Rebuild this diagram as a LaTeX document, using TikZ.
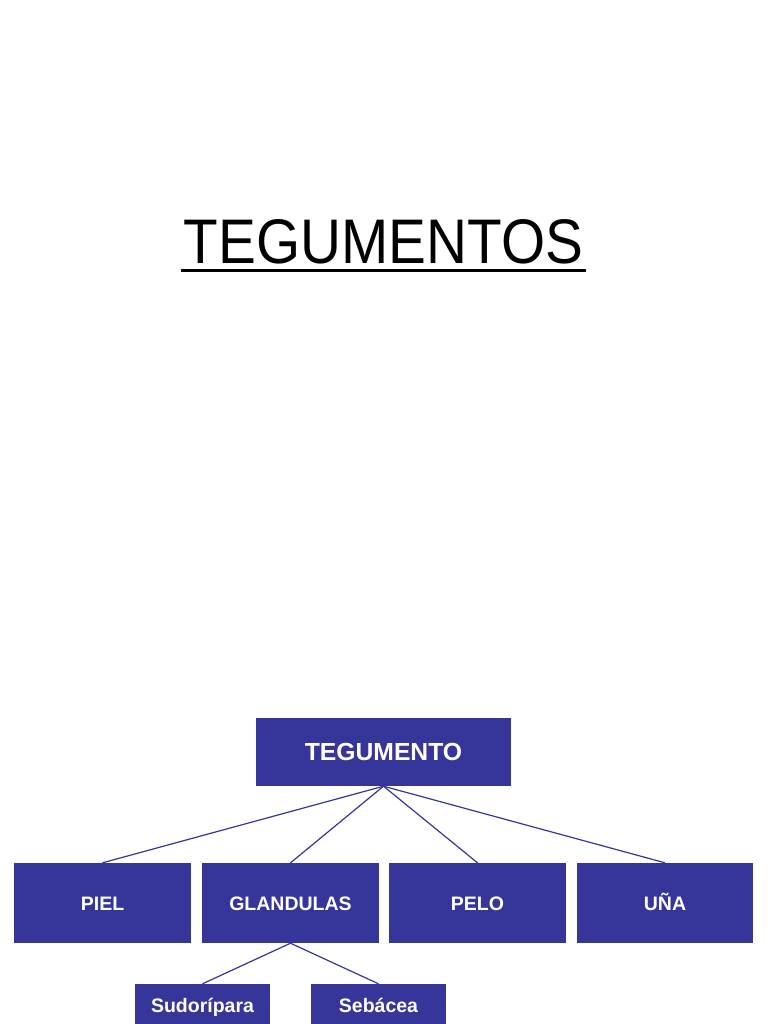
\documentclass[tikz,border=0pt]{standalone}
\usepackage{fontspec}
\setmainfont{Liberation Sans}
\definecolor{boxblue}{RGB}{53,53,154}
\begin{document}
\begin{tikzpicture}[x=1pt,y=-1pt,
  box/.style={draw=none,fill=boxblue,text=white,inner sep=0pt,font=\fontsize{19.5}{20}\selectfont\bfseries,text height=14pt,text depth=0pt},
  bigbox/.style={box,font=\fontsize{24.7}{26}\selectfont\bfseries,text height=17.7pt},
  link/.style={draw=boxblue,line width=1.2pt}]
\useasboundingbox (0,0) rectangle (768,1024);
\node[inner sep=0pt,text height=45pt,text depth=0pt,font=\fontsize{63}{66}\selectfont,xscale=0.9] (title) at (383.5,240.5) {TEGUMENTOS};
\draw[line width=3pt] (181,270) coordinate (ul1) -- (586,270) coordinate (ul2);
\node[bigbox,minimum width=255pt,minimum height=68pt] (teg) at (383.5,752) {TEGUMENTO};
\node[box,minimum width=177pt,minimum height=80pt] (piel) at (102.5,903) {PIEL};
\node[box,minimum width=177pt,minimum height=80pt] (gland) at (290.5,903) {GLANDULAS};
\node[box,minimum width=177pt,minimum height=80pt] (pelo) at (477.5,903) {PELO};
\node[box,minimum width=176pt,minimum height=80pt] (una) at (665,903) {UÑA};
\node[box,minimum width=135pt,minimum height=42pt] (sud) at (202.5,1005) {Sudorípara};
\node[box,minimum width=135pt,minimum height=42pt] (seb) at (378.5,1005) {Sebácea};
\foreach \n in {piel,gland,pelo,una}{\draw[link] (teg.south) -- (\n.north);}
\draw[link] (gland.south) -- (sud.north);
\draw[link] (gland.south) -- (seb.north);
\end{tikzpicture}
\end{document}
